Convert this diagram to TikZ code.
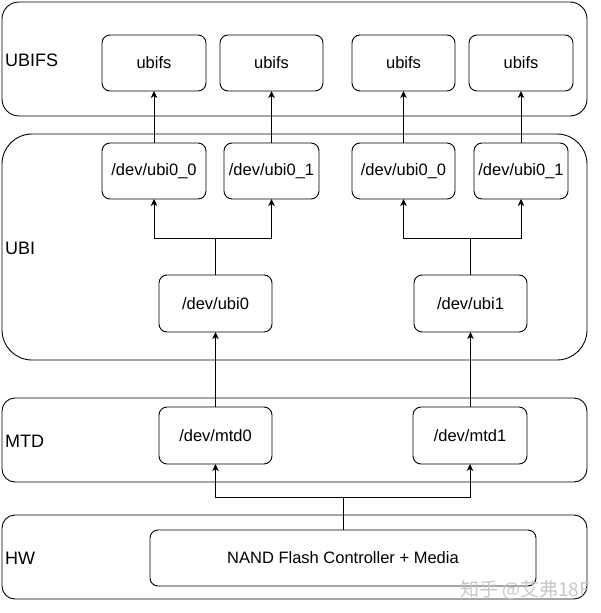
\documentclass[tikz,border=0pt]{standalone}
\usepackage{fontspec}
\setmainfont{Liberation Sans}
\newfontfamily\cjkfont{Noto Sans CJK SC}
\usetikzlibrary{arrows.meta}
\begin{document}
\begin{tikzpicture}[x=1pt,y=-1pt,
  layerbox/.style={draw, line width=0.9pt, inner sep=0pt, outer sep=0pt},
  layerlabel/.style={anchor=west, inner sep=0pt, font=\fontsize{18}{21}\selectfont},
  itembox/.style={draw, line width=0.9pt, rounded corners=8pt, minimum height=56pt, inner sep=0pt, outer sep=0pt, font=\fontsize{16.5}{20}\selectfont},
  conn/.style={line width=0.9pt},
  arr/.style={conn, -{Stealth[length=7pt,width=6.5pt,inset=2pt]}}]
\useasboundingbox (0,0) rectangle (600,613);
% layers
\node[layerbox, rounded corners=17pt, minimum width=585pt, minimum height=114pt] (ubifsL) at (294.5,59) {};
\node[layerbox, rounded corners=30pt, minimum width=585pt, minimum height=226pt] (ubiL) at (294.5,247) {};
\node[layerbox, rounded corners=13pt, minimum width=585pt, minimum height=84pt] (mtdL) at (294.5,440) {};
\node[layerbox, rounded corners=13pt, minimum width=585pt, minimum height=84pt] (hwL) at (294.5,557) {};
\node[layerlabel] (ubifsT) at (5,60) {UBIFS};
\node[layerlabel] (ubiT) at (5,248) {UBI};
\node[layerlabel] (mtdT) at (5,441) {MTD};
\node[layerlabel] (hwT) at (5,558) {HW};
% ubifs
\node[itembox, minimum width=104pt] (ubifs1) at (154,63) {ubifs};
\node[itembox, minimum width=103pt] (ubifs2) at (271.5,63) {ubifs};
\node[itembox, minimum width=103pt] (ubifs3) at (403.5,63) {ubifs};
\node[itembox, minimum width=104pt] (ubifs4) at (521,63) {ubifs};
% volumes
\node[itembox, minimum width=104pt] (v00) at (154,171) {/dev/ubi0\_0};
\node[itembox, minimum width=95pt] (v01) at (271.5,171) {/dev/ubi0\_1};
\node[itembox, minimum width=103pt] (v10) at (403.5,171) {/dev/ubi0\_0};
\node[itembox, minimum width=94pt] (v11) at (521,171) {/dev/ubi0\_1};
% ubi devices
\node[itembox, minimum width=113pt, minimum height=57pt] (ubi0) at (215.5,303.5) {/dev/ubi0};
\node[itembox, minimum width=113pt, minimum height=57pt] (ubi1) at (470.5,303.5) {/dev/ubi1};
% mtd
\node[itembox, minimum width=113pt, minimum height=57pt] (mtd0) at (215.5,435.5) {/dev/mtd0};
\node[itembox, minimum width=114pt, minimum height=57pt] (mtd1) at (470,435.5) {/dev/mtd1};
% hw
\node[itembox, minimum width=386pt] (nand) at (343,558) {NAND Flash Controller + Media};
% connectors
\draw[arr] (v00) -- (ubifs1);
\draw[arr] (v01) -- (ubifs2);
\draw[arr] (v10) -- (ubifs3);
\draw[arr] (v11) -- (ubifs4);
\coordinate (f0) at (215.5,238);
\coordinate (f1) at (470.5,238);
\draw[conn] (ubi0.north) -- (f0);
\draw[arr] (f0) -| (v00.south);
\draw[arr] (f0) -| (v01.south);
\draw[conn] (ubi1.north) -- (f1);
\draw[arr] (f1) -| (v10.south);
\draw[arr] (f1) -| (v11.south);
\draw[arr] (mtd0) -- (ubi0);
\draw[arr] (mtd1.north -| ubi1) -- (ubi1);
\coordinate (fh) at (343,497);
\draw[conn] (nand.north) -- (fh);
\draw[arr] (fh) -| (mtd0.south);
\draw[arr] (fh) -| (mtd1.south);
% watermark
\node[anchor=center, inner sep=0pt, text=black!22, font=\cjkfont\fontsize{19}{22}\selectfont] (wm) at (525,590) {知乎 @艾弗18F};
\end{tikzpicture}
\end{document}
